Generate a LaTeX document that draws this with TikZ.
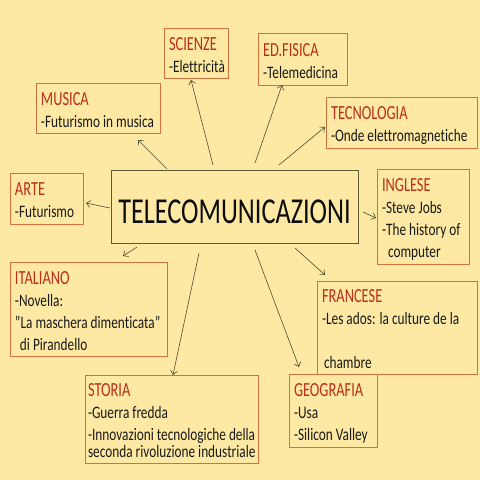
\documentclass[tikz,border=0pt]{standalone}
\usepackage{fontspec}
\setmainfont[FakeStretch=0.72, Ligatures=NoCommon]{Carlito}
\newfontfamily\bodyfont[FakeStretch=0.76, Ligatures=NoCommon]{Carlito}
\usepackage{tikz}
\usetikzlibrary{arrows.meta}

\definecolor{bgyellow}{HTML}{FDE9A3}
\definecolor{boxline}{HTML}{D4703A}
\definecolor{titlered}{HTML}{BA2E1C}
\definecolor{teleline}{HTML}{5E5A32}
\definecolor{linkcol}{HTML}{4F4B30}

\newcommand{\materia}[1]{{\rmfamily\fontsize{20}{22}\selectfont\color{titlered}#1}}
\newcommand{\righe}[1]{\raisebox{-4pt}[\height][\depth]{\begin{tabular}{@{}l@{}}#1\end{tabular}}}

\tikzset{
    subject/.style={draw=boxline, line width=0.8pt, anchor=north west, align=flush left,
        inner xsep=5pt, inner ysep=2pt, outer sep=0pt, text=black!90,
        font=\bodyfont\fontsize{17.5}{22}\selectfont},
    link/.style={draw=linkcol, line width=0.6pt, -{Straight Barb[length=4pt,width=7pt]}}
}

\begin{document}
\begin{tikzpicture}[x=1pt, y=-1pt]
    \useasboundingbox (0,0) rectangle (480,480);
    \fill[bgyellow] (0,0) rectangle (480,480);

    % central topic
    \node[draw=teleline, line width=0.7pt, anchor=north west, minimum width=247pt,
          minimum height=73pt, outer sep=0pt, text=black!95, font=\fontsize{36.5}{40}\selectfont]
          (tele) at (111,170) {\raisebox{-5pt}[\height][\depth]{TELECOMUNICAZIONI}};

    % subjects
    \node[subject, text width=54pt, minimum height=50pt] (scienze) at (164,28)
        {\righe{\materia{SCIENZE}\\-Elettricità}};
    \node[subject, text width=114pt, minimum height=50pt] (musica) at (36,83)
        {\righe{\materia{MUSICA}\\-Futurismo in musica}};
    \node[subject, text width=63pt, minimum height=51pt] (arte) at (10,173)
        {\righe{\materia{ARTE}\\-Futurismo}};
    \node[subject, text width=79pt, minimum height=52pt] (edfisica) at (258,33)
        {\righe{\materia{ED.FISICA}\\-Telemedicina}};
    \node[subject, text width=141pt, minimum height=51pt] (tecnologia) at (326,97)
        {\righe{\materia{TECNOLOGIA}\\-Onde elettromagnetiche}};
    \node[subject, text width=82pt, minimum height=95pt] (inglese) at (377,169)
        {\righe{\materia{INGLESE}\\-Steve Jobs\\-The history of\\\hspace*{6pt}computer}};
    \node[subject, text width=147pt, minimum height=94pt] (italiano) at (10,262)
        {\righe{\materia{ITALIANO}\\-Novella:\\”La maschera dimenticata”\\\hspace*{5pt}di Pirandello}};
    \node[subject, text width=167pt, inner xsep=3pt, minimum height=88pt] (storia) at (85,375)
        {\righe{\materia{STORIA}\\-Guerra fredda\\-Innovazioni tecnologiche della\\[-5pt]seconda rivoluzione industriale}};
    \node[subject, text width=150pt, minimum height=93pt] (francese) at (317,281)
        {\righe{\materia{FRANCESE}\\-Les ados: la culture de la\\[22pt]\hspace*{2pt}chambre}};
    \node[subject, text width=78pt, minimum height=73pt] (geografia) at (289,374)
        {\righe{\materia{GEOGRAFIA}\\-Usa\\-Silicon Valley}};

    % arrows from the centre
    \draw[link] ([shift={(102,-5)}]tele.north west) -- ([shift={(27,2)}]scienze.south west);
    \draw[link] ([shift={(56,-1)}]tele.north west) -- ([shift={(102,7)}]musica.south west);
    \draw[link] ([shift={(-1,1.5)}]tele.west) -- ([shift={(3,4.5)}]arte.east);
    \draw[link] ([shift={(144,-7)}]tele.north west) -- ([shift={(24,0)}]edfisica.south west);
    \draw[link] ([shift={(168,-5)}]tele.north west) -- ([shift={(-1,4.5)}]tecnologia.west);
    \draw[link] ([shift={(5,5.5)}]tele.east) -- ([shift={(-1,1.5)}]inglese.west);
    \draw[link] ([shift={(26,4)}]tele.south west) -- ([shift={(113,-6)}]italiano.north west);
    \draw[link] ([shift={(88,10)}]tele.south west) -- ([shift={(88,0)}]storia.north west);
    \draw[link] ([shift={(184,5)}]tele.south west) -- ([shift={(8,-6)}]francese.north west);
    \draw[link] ([shift={(144,7)}]tele.south west) -- ([shift={(10,-7)}]geografia.north west);
\end{tikzpicture}
\end{document}
